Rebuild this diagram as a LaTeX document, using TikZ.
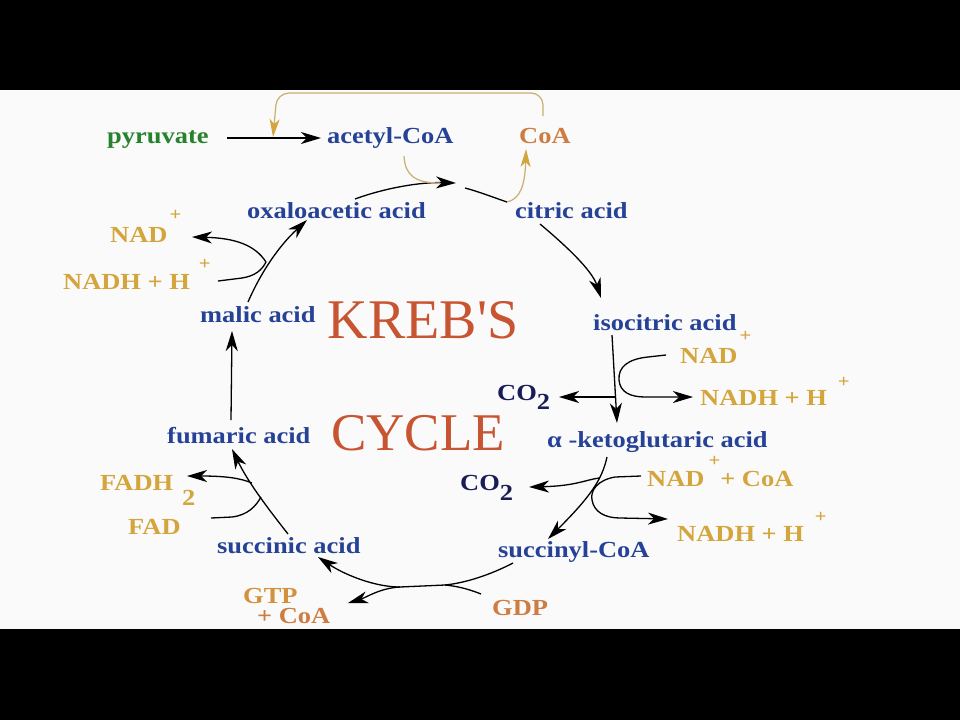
\documentclass[tikz,border=0pt]{standalone}
\usepackage{fontspec}
\setmainfont{Liberation Serif}[FakeStretch=1.15]
\newfontfamily\titlefont{Liberation Serif}
\usetikzlibrary{arrows.meta}
\definecolor{cblue}{RGB}{38,66,150}
\definecolor{cgold}{RGB}{212,165,60}
\definecolor{corange}{RGB}{205,125,65}
\definecolor{cgtp}{RGB}{212,145,60}
\definecolor{cnavy}{RGB}{25,28,85}
\definecolor{cgreen}{RGB}{40,130,45}
\definecolor{cred}{RGB}{200,85,50}
\definecolor{cline}{RGB}{200,175,110}
\definecolor{bgwhite}{RGB}{250,250,250}
\newcommand{\supplus}[2]{\hspace{#1}\raisebox{#2}{\fontsize{18}{18}\selectfont\bfseries +}}
\begin{document}
\begin{tikzpicture}[x=1pt,y=-1pt,
  lbl/.style={anchor=base west,inner sep=0pt,font=\fontsize{23}{23}\selectfont\bfseries},
  ttl/.style={anchor=base,inner sep=0pt,text=cred,font=\titlefont\fontsize{56}{56}\selectfont},
  flow/.style={draw=black,line width=1.3pt,-{Stealth[length=20pt,width=12pt,inset=6pt]}},
  plain/.style={draw=black,line width=1.3pt},
  gflow/.style={draw=cline,line width=1.2pt,-{Stealth[length=18pt,width=10pt,inset=5pt,color=cgold]}},
  gplain/.style={draw=cline,line width=1.2pt}]
\useasboundingbox (0,0) rectangle (960,720);
\fill[black] (0,0) rectangle (960,720);
\fill[bgwhite] (0,90) rectangle (960,629);

% labels
\node[lbl,text=cgreen] (pyr) at (107,143) {pyruvate};
\node[lbl,text=cblue] (acoa) at (327,143) {acetyl-CoA};
\node[lbl,text=corange] (coa) at (519,143) {CoA};
\node[lbl,text=cblue] (oxa) at (247,218) {oxaloacetic acid};
\node[lbl,text=cblue] (cit) at (515,218) {citric acid};
\node[lbl,text=cgold] (nadA) at (110,242) {NAD\supplus{2pt}{22pt}};
\node[lbl,text=cgold] (nadhA) at (63,289) {NADH + H\supplus{9pt}{20pt}};
\node[lbl,text=cblue] (mal) at (200,322) {malic acid};
\node[lbl,text=cblue] (iso) at (593,330) {isocitric acid};
\node[lbl,text=cgold] (nadB) at (680,363) {NAD\supplus{2pt}{22pt}};
\node[lbl,text=cnavy] (co2A) at (497,400) {CO\raisebox{-9pt}{2}};
\node[lbl,text=cgold] (nadhB) at (700,405) {NADH + H\supplus{11pt}{18pt}};
\node[lbl,text=cblue] (akg) at (547,447) {α -ketoglutaric acid};
\node[lbl,text=cblue] (fum) at (167,443) {fumaric acid};
\node[lbl,text=cnavy] (co2B) at (460,490) {CO\raisebox{-10pt}{2}};
\node[lbl,text=cgold] (nadC) at (647,486) {NAD\supplus{4pt}{20pt}+ CoA};
\node[lbl,text=cgold] (fadh) at (100,490) {FADH\hspace{9pt}\raisebox{-15pt}{2}};
\node[lbl,text=cgold] (fad) at (128,534) {FAD};
\node[lbl,text=cgold] (nadhC) at (677,541) {NADH + H\supplus{11pt}{19pt}};
\node[lbl,text=cblue] (succoa) at (498,557) {succinyl-CoA};
\node[lbl,text=cblue] (succ) at (217,553) {succinic acid};
\node[lbl,text=cgtp] (gtp) at (243,603) {GTP};
\node[lbl,text=corange] (coa2) at (257,623) {+ CoA};
\node[lbl,text=corange] (gdp) at (492,615) {GDP};
\node[ttl] (krebs) at (423,338) {KREB\textquotesingle S};
\node[ttl,font=\titlefont\fontsize{53}{53}\selectfont] (cycle) at (418,450) {CYCLE};

% coordinates for connector ends
\coordinate (pyrR) at (227,138);
\coordinate (acoaL) at (321,138);
\coordinate (coaT) at (543,116);
\coordinate (loopTip) at (273,137);
\coordinate (oxaR) at (355,199);
\coordinate (topTip) at (456,183);
\coordinate (acoaB) at (404,156);
\coordinate (jA) at (440,183);
\coordinate (citS) at (465,188);
\coordinate (citL) at (507,202);
\coordinate (coaB) at (526,149);
\coordinate (citB) at (540,224);
\coordinate (isoT) at (601,298);
\coordinate (isoB) at (612,335);
\coordinate (akgT) at (617,423);
\coordinate (jI) at (615,397);
\coordinate (co2Atip) at (559,397);
\coordinate (nadBL) at (666,355);
\coordinate (nadhBtip) at (693,397);
\coordinate (akgB) at (607,457);
\coordinate (succoaT) at (548,539);
\coordinate (jK) at (599,478);
\coordinate (co2Btip) at (529,487);
\coordinate (nadCL) at (641,476);
\coordinate (nadhCtip) at (668,519);
\coordinate (succoaB) at (513,563);
\coordinate (jS) at (445,585);
\coordinate (jS2) at (400,587);
\coordinate (succTip) at (318,557);
\coordinate (gtpTip) at (348,603);
\coordinate (gdpT) at (481,594);
\coordinate (succT) at (288,534);
\coordinate (fumTip) at (232,449);
\coordinate (jF) at (252,483);
\coordinate (fadhTip) at (187,476);
\coordinate (fadR) at (211,518);
\coordinate (jF2) at (261,497);
\coordinate (fumB) at (231,420);
\coordinate (malTip) at (232,331);
\coordinate (malT) at (248,302);
\coordinate (oxaTip) at (307,220);
\coordinate (jM) at (266,262);
\coordinate (nadAtip) at (192,237);
\coordinate (nadhAR) at (218,281);

% pyruvate -> acetyl-CoA and CoA loop
\draw[flow] (pyrR) -- (acoaL);
\draw[gflow,rounded corners=12pt] (coaT) -- (543,93) -- (277,93) -- (loopTip);

% top of cycle
\draw[flow] (oxaR) .. controls (385,188) and (420,182) .. (topTip);
\draw[gplain] (acoaB) .. controls (405,176) and (416,183) .. (jA);
\draw[plain] (citS) .. controls (480,192) and (495,198) .. (citL);
\draw[gflow] (citL) .. controls (520,199) and (525,186) .. (coaB);

% citric -> isocitric
\draw[flow] (citB) .. controls (565,245) and (592,270) .. (isoT);

% isocitric -> alpha-ketoglutaric
\draw[flow] (isoB) -- (akgT);
\draw[flow] (jI) -- (co2Atip);
\draw[flow] (nadBL) -- (648,357) .. controls (628,359) and (618,367) .. (619,380) .. controls (620,392) and (630,397) .. (645,397) -- (nadhBtip);

% alpha-ketoglutaric -> succinyl-CoA
\draw[flow] (akgB) .. controls (602,480) and (590,497) .. (succoaT);
\draw[flow] (jK) .. controls (585,480) and (575,486) .. (co2Btip);
\draw[flow] (nadCL) -- (615,477) .. controls (598,480) and (590,490) .. (592,500) .. controls (594,512) and (605,518) .. (620,518) -- (nadhCtip);

% succinyl-CoA -> succinic acid
\draw[plain] (succoaB) .. controls (490,575) and (465,583) .. (jS) -- (jS2);
\draw[plain] (gdpT) .. controls (466,588) and (455,586) .. (jS);
\draw[flow] (jS2) .. controls (375,587) and (345,575) .. (succTip);
\draw[flow] (jS2) .. controls (380,588) and (365,598) .. (gtpTip);

% succinic -> fumaric
\draw[flow] (succT) .. controls (266,506) and (248,482) .. (fumTip);
\draw[flow] (jF) .. controls (240,478) and (225,476) .. (fadhTip);
\draw[plain] (fadR) -- (232,517) .. controls (248,515) and (256,506) .. (jF2);

% fumaric -> malic
\draw[flow] (fumB) -- (malTip);

% malic -> oxaloacetic
\draw[flow] (malT) .. controls (262,270) and (280,245) .. (oxaTip);
\draw[flow] (jM) .. controls (255,245) and (235,238) .. (nadAtip);
\draw[plain] (nadhAR) -- (242,278) .. controls (255,276) and (262,270) .. (jM);
\end{tikzpicture}
\end{document}
